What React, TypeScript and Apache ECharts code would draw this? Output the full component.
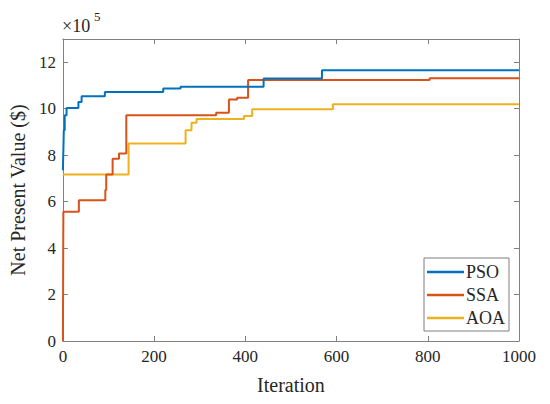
import React, { useEffect, useRef } from "react";
import * as echarts from "echarts";

// Iteration at which each value starts (step curves), values in $
const psoIter = [0, 1, 2, 4, 8, 34, 41, 92, 220, 258, 440, 568, 1000];
const psoValue = [735000, 820000, 907000, 972000, 1003000, 1029000, 1054000, 1072000, 1087000, 1094000, 1130000, 1166000, 1166000];

const ssaIter = [0, 1, 35, 93, 95, 109, 123, 139, 336, 364, 382, 406, 804, 1000];
const ssaValue = [0, 556000, 606000, 650000, 717000, 784000, 807000, 972000, 982000, 1040000, 1047000, 1123000, 1131000, 1131000];

const aoaIter = [0, 144, 269, 282, 293, 397, 415, 592, 1000];
const aoaValue = [717000, 850000, 907000, 940000, 956000, 969000, 998000, 1019000, 1019000];

const seriesNames = ["PSO", "SSA", "AOA"];
const seriesColors = ["#0072BD", "#D95319", "#EDB120"];
const xTicks = [0, 200, 400, 600, 800, 1000];
const yTickStep = 200000;

const FONT = "'Liberation Serif', 'DejaVu Serif', serif";
const TEXT = "#262626";
const AXIS = "#808080";

export default function App() {
  const ref = useRef<HTMLDivElement>(null);
  useEffect(() => {
    if (!ref.current) return;
    const chart = echarts.init(ref.current, undefined, { renderer: "svg" });
    const pairs = (xs: number[], ys: number[]) => xs.map((x, i) => [x, ys[i]]);
    const data = [pairs(psoIter, psoValue), pairs(ssaIter, ssaValue), pairs(aoaIter, aoaValue)];
    const axisCommon = {
      axisLine: { show: true, onZero: false, lineStyle: { color: AXIS, width: 1 } },
      axisTick: { show: true, inside: true, length: 5, lineStyle: { color: AXIS } },
      splitLine: { show: false },
    };
    chart.setOption({
      animation: false,
      backgroundColor: "#ffffff",
      grid: { left: 62, right: 31, top: 39, bottom: 63, containLabel: false },
      legend: {
        data: seriesNames.map((n) => ({ name: n, icon: "rect" })),
        orient: "vertical",
        right: 41,
        top: 258,
        itemWidth: 37,
        itemHeight: 2.5,
        itemGap: 5,
        padding: [5, 4, 4, 3],
        backgroundColor: "#ffffff",
        borderColor: "#7f7f7f",
        borderWidth: 1,
        borderRadius: 0,
        textStyle: { fontFamily: FONT, fontSize: 18, color: TEXT, padding: [0, 0, 0, -3] },
      },
      xAxis: [
        {
          type: "value",
          min: xTicks[0],
          max: xTicks[xTicks.length - 1],
          interval: xTicks[1] - xTicks[0],
          name: "Iteration",
          nameLocation: "middle",
          nameGap: 34,
          nameTextStyle: { fontFamily: FONT, fontSize: 20, color: TEXT },
          axisLabel: { fontFamily: FONT, fontSize: 17, color: TEXT, margin: 7, formatter: (v: number) => String(v) },
          ...axisCommon,
        },
        {
          type: "value",
          position: "top",
          min: xTicks[0],
          max: xTicks[xTicks.length - 1],
          interval: xTicks[1] - xTicks[0],
          axisLabel: { show: false },
          ...axisCommon,
        },
      ],
      yAxis: [
        {
          type: "value",
          min: 0,
          max: 1300000,
          interval: yTickStep,
          name: "Net Present Value ($)",
          nameLocation: "middle",
          nameGap: 32,
          nameTextStyle: { fontFamily: FONT, fontSize: 20, color: TEXT },
          axisLabel: {
            fontFamily: FONT,
            fontSize: 17,
            color: TEXT,
            margin: 7,
            formatter: (v: number) => (v > 1200000 ? "" : String(Math.round(v / 100000))),
          },
          ...axisCommon,
        },
        {
          type: "value",
          position: "right",
          min: 0,
          max: 1300000,
          interval: yTickStep,
          axisLabel: { show: false },
          ...axisCommon,
        },
      ],
      graphic: [
        {
          type: "text",
          left: 62,
          top: 17,
          style: { text: "×10", fontFamily: FONT, fontSize: 18, fill: TEXT },
        },
        {
          type: "text",
          left: 94,
          top: 10,
          style: { text: "5", fontFamily: FONT, fontSize: 13, fill: TEXT },
        },
      ],
      series: seriesNames.map((name, i) => ({
        name,
        type: "line",
        step: "end",
        data: data[i],
        showSymbol: false,
        symbol: "none",
        lineStyle: { color: seriesColors[i], width: 2 },
        itemStyle: { color: seriesColors[i] },
        xAxisIndex: 0,
        yAxisIndex: 0,
        z: 3 - i,
      })),
    });
    return () => chart.dispose();
  }, []);
  return <div ref={ref} style={{ position: "fixed", left: 0, top: 0, width: 550, height: 404 }} />;
}
